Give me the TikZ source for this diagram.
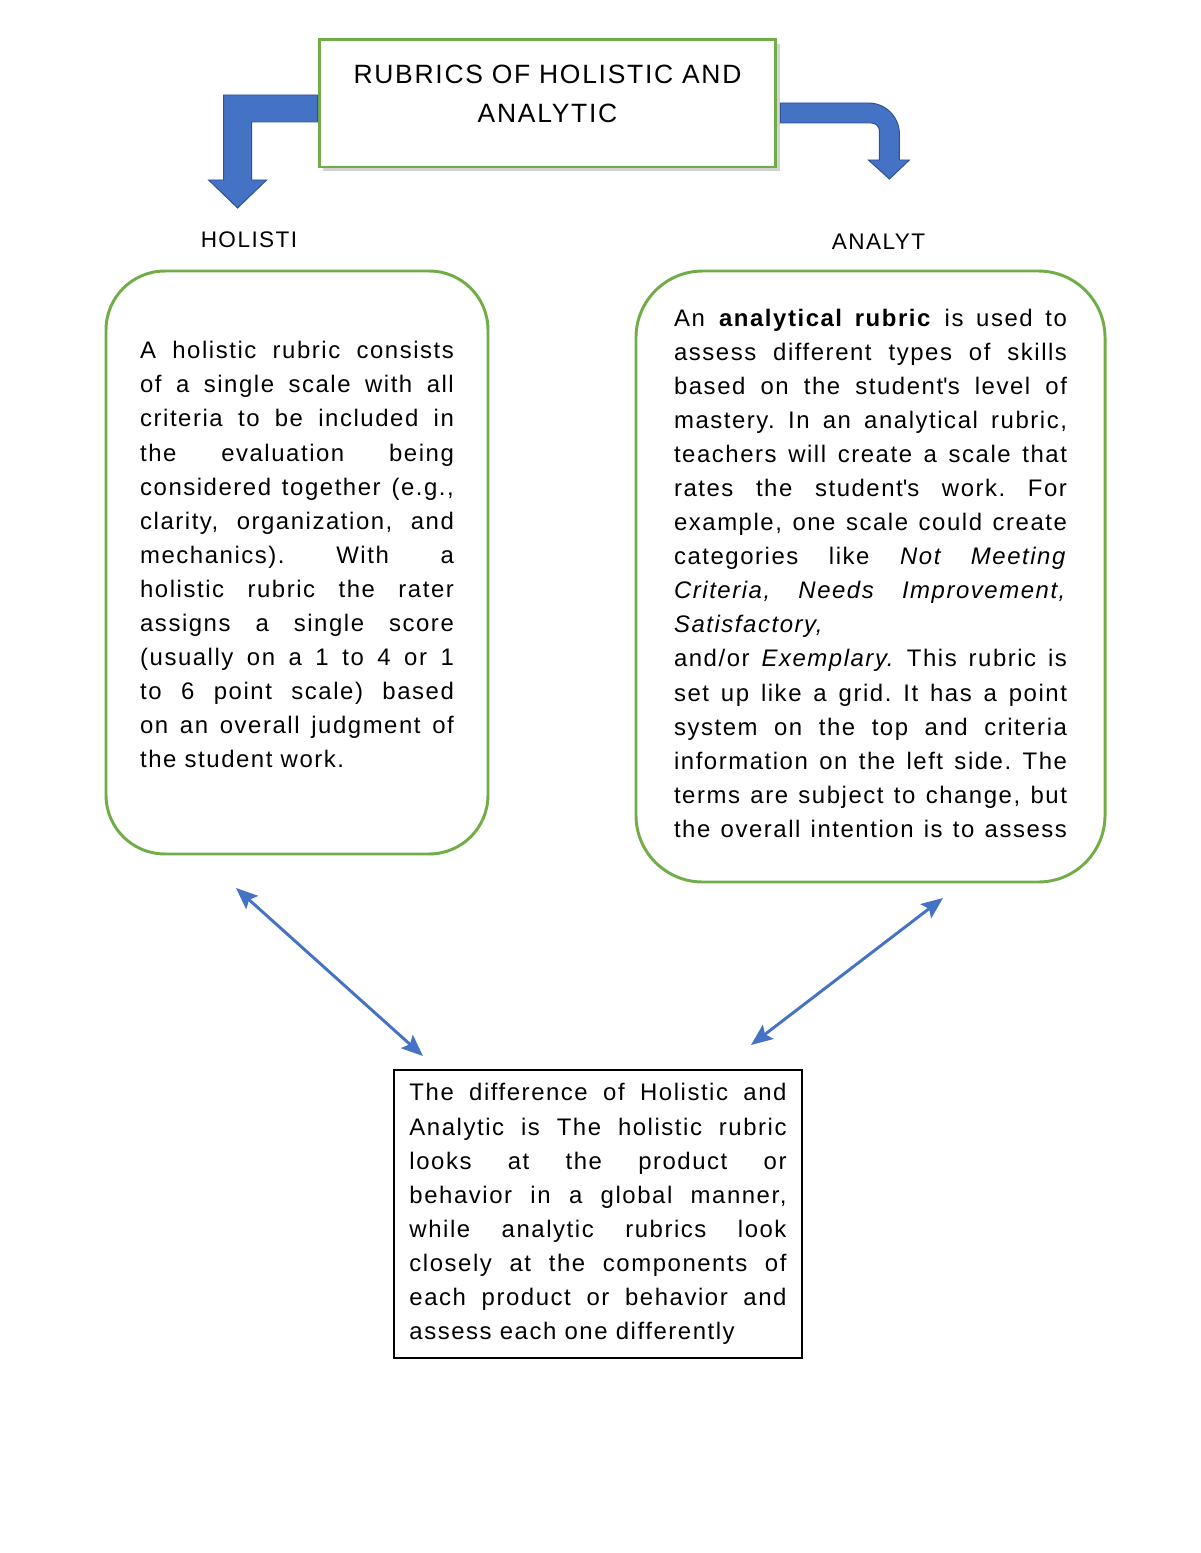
\documentclass[tikz,border=0pt]{standalone}
\usepackage{fontspec}
\setmainfont{Liberation Sans}[LetterSpace=6.5]
\usepackage{tikz}
\usetikzlibrary{arrows.meta,shadows}
\definecolor{boxgreen}{HTML}{70AD47}
\definecolor{arrowblue}{HTML}{4472C4}
\definecolor{arrowedge}{HTML}{2F528F}
\hyphenpenalty=10000
\exhyphenpenalty=10000
\frenchspacing

\begin{document}
\begin{tikzpicture}[x=0.51pt,y=-0.51pt,>={Stealth[length=11pt,width=9pt,inset=2pt]},every node/.style={inner sep=0pt},
  body/.style={font=\fontsize{12.2}{17.37}\selectfont},
  title box/.style={draw=boxgreen,line width=1.5pt,fill=white,align=center,
    drop shadow={shadow xshift=2pt,shadow yshift=-2pt,fill=black!35,opacity=.5},
    font=\fontsize{13.5}{19.9}\selectfont},
  rubric box/.style={draw=boxgreen,line width=1.5pt,body,align=justify},
  diff box/.style={draw=black,line width=1pt,body,align=justify},
  side label/.style={font=\fontsize{11.5}{14}\selectfont},
  block arrow/.style={fill=arrowblue,draw=arrowedge,line width=0.5pt},
  link/.style={<->,draw=arrowblue,line width=1.5pt}]

  \useasboundingbox (0,0) rectangle (1200,1553);

  \node[title box,text width=220pt,minimum width=233pt,minimum height=64.8pt] (title) at (547.5,103.5)
    {RUBRICS OF HOLISTIC AND\\ANALYTIC\par\kern9.9pt};

  \node[side label] (hollabel) at (249,240) {HOLISTI};
  \node[side label] (analabel) at (878.5,242) {ANALYT};

  \node[rubric box,rounded corners=30pt,text width=160pt,minimum width=194.8pt,minimum height=297.3pt] (holistic) at (297,562.5)
    {A holistic rubric consists\linebreak
     of a single scale with all\linebreak
     criteria to be included in\linebreak
     the evaluation being\linebreak
     considered together (e.g.,\linebreak
     clarity, organization, and\linebreak
     mechanics). With a\linebreak
     holistic rubric the rater\linebreak
     assigns a single score\linebreak
     (usually on a 1 to 4 or 1\linebreak
     to 6 point scale) based\linebreak
     on an overall judgment of\linebreak
     the student work.\par\kern8pt};

  \node[rubric box,rounded corners=34pt,text width=200.4pt,minimum width=239.2pt,minimum height=311.6pt] (analytic) at (870.5,576.5)
    {An \textbf{analytical rubric} is used to\linebreak
     assess different types of skills\linebreak
     based on the student\textquotesingle s level of\linebreak
     mastery. In an analytical rubric,\linebreak
     teachers will create a scale that\linebreak
     rates the student\textquotesingle s work. For\linebreak
     example, one scale could create\linebreak
     categories like \textit{Not Meeting}\linebreak
     \textit{Criteria, Needs Improvement,}\linebreak
     \textit{Satisfactory,}\newline
     and/or \textit{Exemplary.} This rubric is\linebreak
     set up like a grid. It has a point\linebreak
     system on the top and criteria\linebreak
     information on the left side. The\linebreak
     terms are subject to change, but\linebreak
     the overall intention is to assess\parfillskip=0pt\par\kern3.3pt};

  \node[diff box,text width=192.3pt,minimum width=208pt,minimum height=146.9pt] (difference) at (598,1214)
    {The difference of Holistic and\linebreak
     Analytic is The holistic rubric\linebreak
     looks at the product or\linebreak
     behavior in a global manner,\linebreak
     while analytic rubrics look\linebreak
     closely at the components of\linebreak
     each product or behavior and\linebreak
     assess each one differently};

  % bent block arrows out of the title
  \draw[block arrow] (title.west) ++(0,-8.5) -- ++(-94,0) -- ++(0,85) -- ++(-15,0) -- ++(29,28)
    -- ++(29,-28) -- ++(-15,0) -- ++(0,-58) -- ++(66,0) -- cycle;
  \draw[block arrow] (title.east) ++(3,-0.5) -- ++(88,0) arc[start angle=-90,end angle=0,radius=31]
    -- ++(0,26) -- ++(10,0) -- ++(-20,19) -- ++(-21,-19) -- ++(11,0) -- ++(0,-29)
    arc[start angle=0,end angle=-90,radius=8] -- ++(-91,0) -- cycle;

  \coordinate (holtip) at (236,888);
  \coordinate (difleft) at (423,1056);
  \coordinate (anatip) at (943,898);
  \coordinate (difright) at (751,1045);

  \path (holtip) edge[link] (difleft)
        (anatip) edge[link] (difright);

\end{tikzpicture}
\end{document}
